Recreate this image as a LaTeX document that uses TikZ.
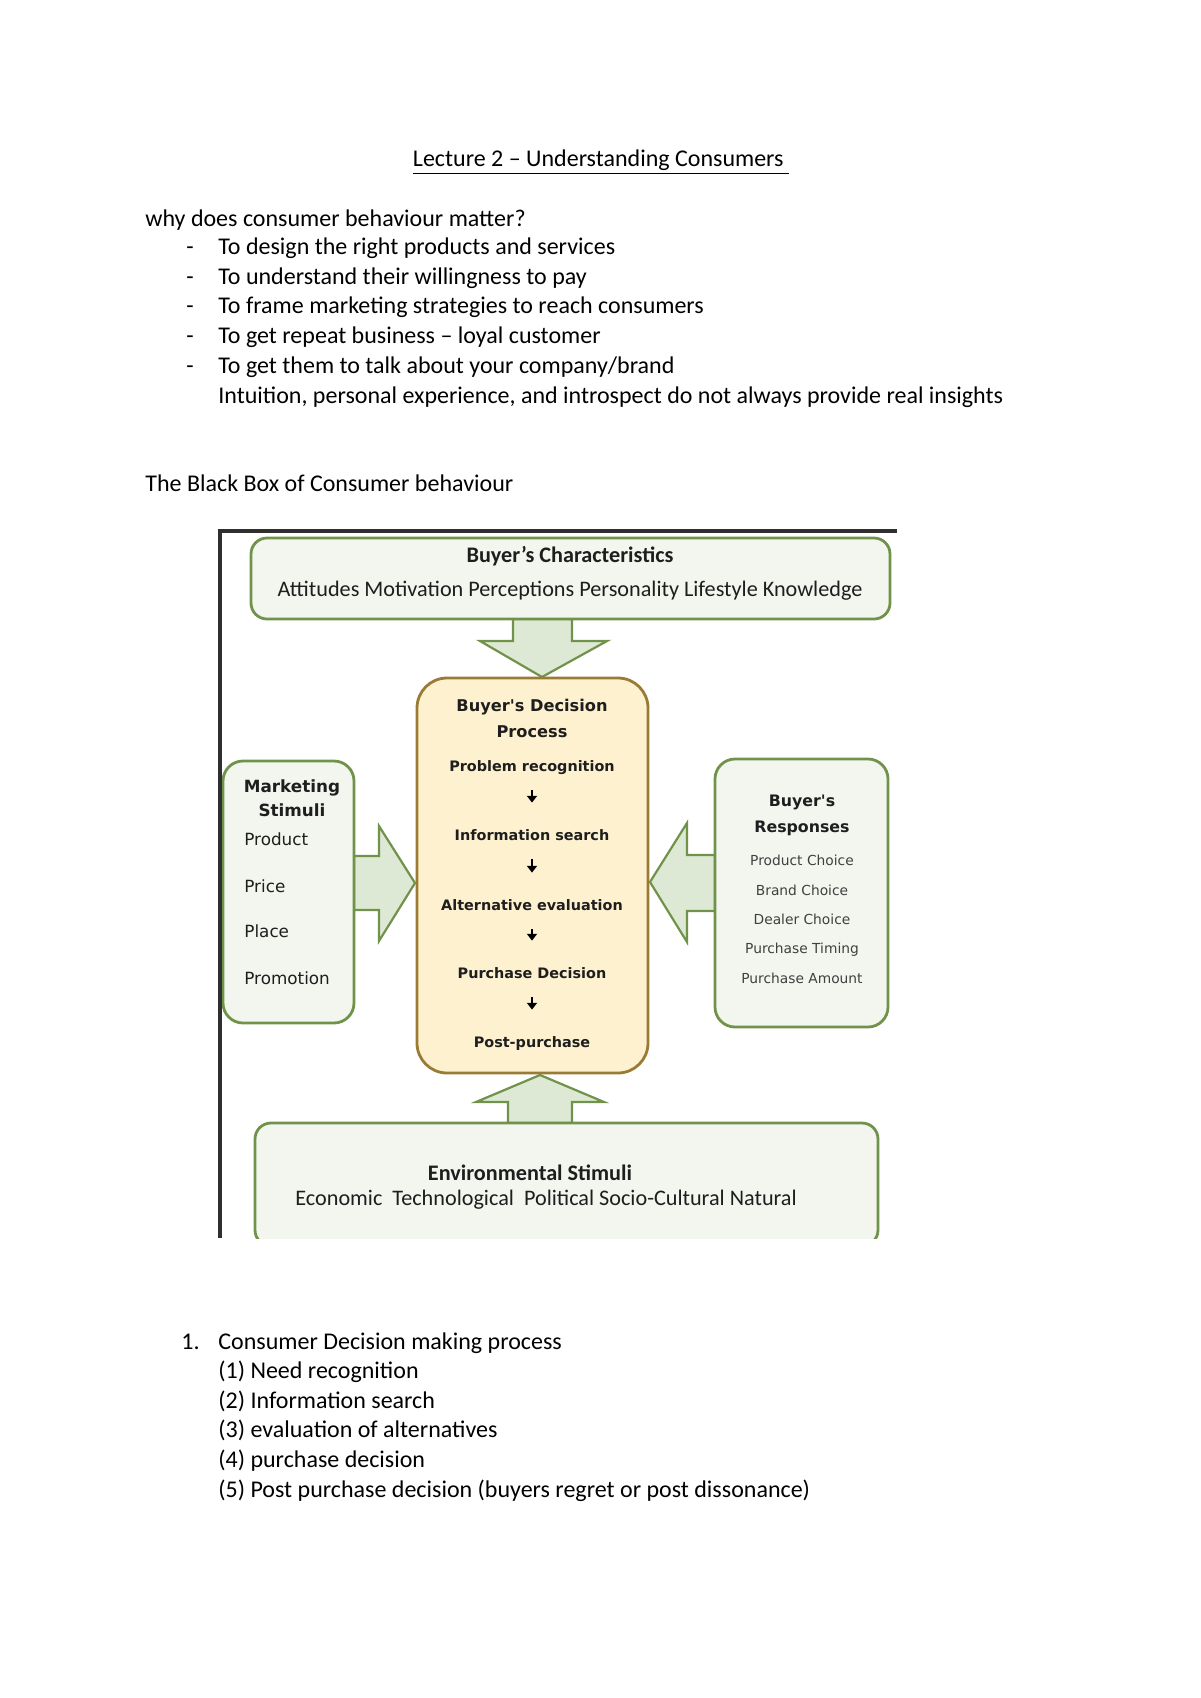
\documentclass[tikz,border=0pt]{standalone}
\usepackage{fontspec}
\setmainfont{Carlito}
\newfontfamily\figfont{DejaVu Sans}
\usetikzlibrary{arrows.meta, calc}
\definecolor{boxgreen}{HTML}{71924B}
\definecolor{boxfill}{HTML}{F2F6EE}
\definecolor{arrowfill}{HTML}{DDE9D4}
\definecolor{procfill}{HTML}{FDF1CF}
\definecolor{procline}{HTML}{9A7B35}
\definecolor{framegray}{HTML}{2F2F2F}
\definecolor{figtext}{HTML}{1E1E1E}

\begin{document}
\begin{tikzpicture}[x=0.5pt, y=-0.5pt,
  body/.style={anchor=base west, inner sep=0pt, font=\fontsize{12}{14}\selectfont},
  gbox/.style={draw=boxgreen, fill=boxfill, line width=1.4pt, rounded corners=8pt},
  block/.style={draw=boxgreen, fill=arrowfill, line width=1.1pt, line join=miter},
  figline/.style={inner sep=0pt, text height=5.5pt, text depth=1.5pt, text=figtext},
  stepline/.style={figline, font=\figfont\bfseries\fontsize{7.2}{8}\selectfont},
  stepto/.style={-{Triangle[length=3.4pt,width=5pt]}, line width=1.2pt, shorten <=8pt, shorten >=13pt}]
\useasboundingbox (0,0) rectangle (1200,1698);

\node[body, anchor=base] (title) at (601,166) {\underline{Lecture 2 – Understanding Consumers\ }};
\node[body] (why) at (145,226) {why does consumer behaviour matter?};
\foreach \txt [count=\i] in {To design the right products and services,
    To understand their willingness to pay,
    To frame marketing strategies to reach consumers,
    To get repeat business – loyal customer,
    To get them to talk about your company/brand}{
  \node[body] (dash\i) at (186,225+29.6*\i) {-};
  \node[body] (reason\i) at (218,225+29.6*\i) {\txt};
}
\node[body] (intuition) at (218,403) {Intuition, personal experience, and introspect do not always provide real insights};
\node[body] (blackbox) at (145,491) {The Black Box of Consumer behaviour};

% block arrows into the decision process
\draw[block] (513,619) -- (513,641) -- (480,641) -- (542,677) -- (607,641) -- (572,641) -- (572,619) -- cycle;
\draw[block] (354,856) -- (379,856) -- (379,826) -- (415,883) -- (379,941) -- (379,910) -- (354,910) -- cycle;
\draw[block] (715,855) -- (687,855) -- (687,823) -- (650,882) -- (687,942) -- (687,911) -- (715,911) -- cycle;
\draw[block] (508,1123) -- (508,1102) -- (476,1102) -- (540,1075) -- (604,1102) -- (572,1102) -- (572,1123) -- cycle;

\node[gbox, minimum width=319.5pt, minimum height=40.5pt] (chars) at (570.5,578.5) {};
\node[figline, font=\bfseries\fontsize{11.1}{13}\selectfont] (charstitle) at (570,558) {Buyer's Characteristics};
\node[figline, font=\fontsize{11.1}{13}\selectfont] (charslist) at (570,592) {Attitudes Motivation Perceptions Personality Lifestyle Knowledge};

\node[draw=procline, fill=procfill, line width=1.4pt, rounded corners=15pt, minimum width=115.5pt, minimum height=197.5pt] (process) at (532.5,875.5) {};
\node[stepline, font=\figfont\bfseries\fontsize{8.1}{9}\selectfont] (proctitle1) at (532,707) {Buyer's Decision};
\node[stepline, font=\figfont\bfseries\fontsize{8.1}{9}\selectfont] (proctitle2) at (532,733) {Process};
\foreach \txt/\y [count=\i] in {Problem recognition/767, Information search/836, Alternative evaluation/906, Purchase Decision/974, Post-purchase/1043}
  \node[stepline] (step\i) at (532,\y) {\txt};
\foreach \i/\j in {1/2, 2/3, 3/4, 4/5}
  \draw[stepto] (step\i) -- (step\j);

\node[gbox, rounded corners=10pt, minimum width=65.5pt, minimum height=131pt] (stimuli) at (288.5,892) {};
\node[figline, font=\figfont\bfseries\fontsize{8.4}{9}\selectfont] (stimtitle1) at (292,788) {Marketing};
\node[figline, font=\figfont\bfseries\fontsize{8.4}{9}\selectfont] (stimtitle2) at (292,812) {Stimuli};
\foreach \txt/\y in {Product/841, Price/888, Place/933, Promotion/980}
  \node[figline, anchor=west, font=\figfont\fontsize{8.4}{9}\selectfont] (mix-\txt) at (244,\y) {\txt};

\node[gbox, rounded corners=10pt, minimum width=86.5pt, minimum height=134pt] (responses) at (801.5,893) {};
\node[figline, font=\figfont\bfseries\fontsize{7.9}{9}\selectfont] (resptitle1) at (802,802) {Buyer's};
\node[figline, font=\figfont\bfseries\fontsize{7.9}{9}\selectfont] (resptitle2) at (802,828) {Responses};
\foreach \txt/\y [count=\i] in {Product Choice/861, Brand Choice/891, Dealer Choice/920, Purchase Timing/949, Purchase Amount/979}
  \node[figline, text=black!75, font=\figfont\fontsize{6.9}{8}\selectfont] (resp\i) at (802,\y) {\txt};

\begin{scope}
  \clip (0,0) rectangle (1200,1238);
  \node[gbox, minimum width=311.5pt, minimum height=61.5pt] (env) at (566.5,1184.5) {};
\end{scope}
\node[figline, font=\bfseries\fontsize{11.1}{13}\selectfont] (envtitle) at (530,1176) {Environmental Stimuli};
\node[figline, anchor=west, font=\fontsize{11.1}{13}\selectfont] (envlist) at (295,1201) {Economic~~Technological~~Political Socio-Cultural Natural};

\draw[framegray, line width=2pt] (897,531) -- (220,531) -- (220,1238);

\node[body] (num1) at (181,1349) {1.};
\node[body] (process1) at (218,1349) {Consumer Decision making process};
\foreach \txt [count=\i] in {(1) Need recognition, (2) Information search, (3) evaluation of alternatives,
    (4) purchase decision, (5) Post purchase decision (buyers regret or post dissonance)}
  \node[body] (sub\i) at (218,1349+29.6*\i) {\txt};
\end{tikzpicture}
\end{document}
